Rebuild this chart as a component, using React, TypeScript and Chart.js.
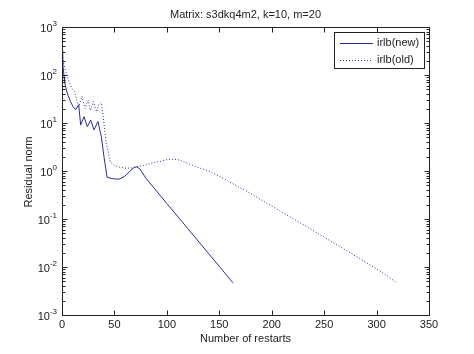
import { useEffect, useRef } from 'react';
import Chart from 'chart.js/auto';

const TITLE = 'Matrix: s3dkq4m2, k=10, m=20';
const X_LABEL = 'Number of restarts';
const Y_LABEL = 'Residual norm';
const SERIES_NAMES = ['irlb(new)', 'irlb(old)'];

const xTicks = [0, 50, 100, 150, 200, 250, 300, 350];
const yTicks = [1e-3, 1e-2, 1e-1, 1, 10, 100, 1000];
const yTickExps = ['-3', '-2', '-1', '0', '1', '2', '3'];

const newX = [0.5, 1, 2, 2.5, 4, 5.7, 8, 10.5, 13, 15.9, 17.8, 21, 24.1, 27.4, 30.5, 34.3, 37.5, 40, 43, 47, 51, 55, 60, 64, 68, 71, 74, 80, 100, 120, 140, 163];
const newY = [360, 150, 90, 72, 50, 38, 28, 22, 19, 24, 9.1, 13.5, 8.4, 11.5, 7.2, 10.7, 5.2, 2.0, 0.74, 0.7, 0.68, 0.68, 0.78, 0.95, 1.15, 1.22, 1.12, 0.71, 0.21, 0.063, 0.0188, 0.0047];

const oldX = [0.5, 1, 3, 6, 9, 12, 14, 16, 19, 22, 25, 27, 30, 33, 35, 37.5, 40, 42, 44, 46, 50, 55, 60, 66, 72, 78, 85, 90, 95, 101, 106, 112, 118, 125, 133, 141, 155, 168, 180, 190, 200, 210, 221, 235, 250, 259, 270, 285, 300, 310, 319];
const oldY = [360, 200, 130, 80, 55, 45, 30, 22, 36, 20, 30, 18, 28, 17, 24, 27, 10, 4, 2.5, 1.55, 1.3, 1.2, 1.15, 1.15, 1.25, 1.3, 1.45, 1.55, 1.6, 1.75, 1.76, 1.7, 1.5, 1.3, 1.12, 0.98, 0.68, 0.47, 0.34, 0.25, 0.186, 0.138, 0.1, 0.066, 0.042, 0.0316, 0.0229, 0.0145, 0.0091, 0.0066, 0.0047];

const LINE_COLOR = '#2a2aa0';
const FONT = '"Liberation Sans", Arial, sans-serif';

const decorPlugin = {
  id: 'matlabDecor',
  afterDraw(chart: any) {
    const { ctx, chartArea } = chart;
    const { left, right, top, bottom } = chartArea;
    const xs = chart.scales.x;
    const ys = chart.scales.y;
    ctx.save();
    ctx.strokeStyle = '#222';
    ctx.lineWidth = 1;
    const L = Math.round(left) + 0.5, R = Math.round(right) + 0.5, T = Math.round(top) + 0.5, B = Math.round(bottom) + 0.5;
    ctx.strokeRect(L, T, R - L, B - T);
    ctx.beginPath();
    xTicks.forEach((v) => {
      const px = Math.round(xs.getPixelForValue(v)) + 0.5;
      ctx.moveTo(px, B); ctx.lineTo(px, B - 5);
      ctx.moveTo(px, T); ctx.lineTo(px, T + 5);
    });
    yTicks.forEach((v) => {
      const py = Math.round(ys.getPixelForValue(v)) + 0.5;
      ctx.moveTo(L, py); ctx.lineTo(L + 5, py);
      ctx.moveTo(R, py); ctx.lineTo(R - 5, py);
    });
    for (let k = -3; k < 3; k++) {
      for (let m = 2; m <= 9; m++) {
        const py = Math.round(ys.getPixelForValue(m * Math.pow(10, k))) + 0.5;
        ctx.moveTo(L, py); ctx.lineTo(L + 3, py);
        ctx.moveTo(R, py); ctx.lineTo(R - 3, py);
      }
    }
    ctx.stroke();

    // y tick labels with superscripts
    ctx.fillStyle = '#222';
    yTicks.forEach((v, i) => {
      const py = ys.getPixelForValue(v);
      ctx.font = `8px ${FONT}`;
      const ew = ctx.measureText(yTickExps[i]).width;
      const xr = left - 5;
      ctx.textAlign = 'left';
      ctx.textBaseline = 'alphabetic';
      ctx.fillText(yTickExps[i], xr - ew, py - 1);
      ctx.font = `11px ${FONT}`;
      ctx.textAlign = 'right';
      ctx.fillText('10', xr - ew, py + 5);
    });

    // title
    ctx.font = `11px ${FONT}`;
    ctx.textAlign = 'center';
    ctx.textBaseline = 'middle';
    ctx.fillText(TITLE, (left + right) / 2, 15);
    // x label
    ctx.fillText(X_LABEL, (left + right) / 2, 339);
    // y label
    ctx.save();
    ctx.translate(29, (top + bottom) / 2 + 1);
    ctx.rotate(-Math.PI / 2);
    ctx.fillText(Y_LABEL, 0, 0);
    ctx.restore();

    // legend
    ctx.fillStyle = '#fff';
    ctx.fillRect(334, 32, 90, 36);
    ctx.strokeStyle = '#222';
    ctx.strokeRect(334.5, 32.5, 90, 36);
    const rows = [43, 60];
    rows.forEach((y, i) => {
      ctx.beginPath();
      ctx.strokeStyle = LINE_COLOR;
      ctx.lineWidth = 1;
      ctx.setLineDash(i === 0 ? [] : [1, 2]);
      ctx.moveTo(340, y + 0.5);
      ctx.lineTo(373, y + 0.5);
      ctx.stroke();
      ctx.setLineDash([]);
      ctx.fillStyle = '#222';
      ctx.textAlign = 'left';
      ctx.textBaseline = 'middle';
      ctx.font = `11px ${FONT}`;
      ctx.fillText(SERIES_NAMES[i], 377, y);
    });
    ctx.restore();
  },
};

export default function App() {
  const ref = useRef<HTMLCanvasElement>(null);
  useEffect(() => {
    if (!ref.current) return;
    const chart = new Chart(ref.current, {
      type: 'line',
      data: {
        datasets: [
          {
            label: SERIES_NAMES[0],
            data: newX.map((x, i) => ({ x, y: newY[i] })),
            borderColor: LINE_COLOR,
            borderWidth: 1,
            pointRadius: 0,
            tension: 0,
          },
          {
            label: SERIES_NAMES[1],
            data: oldX.map((x, i) => ({ x, y: oldY[i] })),
            borderColor: LINE_COLOR,
            borderWidth: 1,
            borderDash: [1, 2],
            pointRadius: 0,
            tension: 0,
          },
        ],
      },
      options: {
        animation: false,
        responsive: true,
        maintainAspectRatio: false,
        layout: { padding: { top: 27, right: 45, left: 0, bottom: 0 } },
        plugins: { legend: { display: false }, title: { display: false }, tooltip: { enabled: false } },
        scales: {
          x: {
            type: 'linear',
            min: 0,
            max: 350,
            grid: { display: false, drawTicks: false },
            border: { display: false },
            afterBuildTicks: (s: any) => { s.ticks = xTicks.map((v) => ({ value: v })); },
            afterFit: (s: any) => { s.height = 39; },
            ticks: { color: '#222', font: { family: FONT, size: 11 }, padding: 3, maxRotation: 0, autoSkip: false },
          },
          y: {
            type: 'logarithmic',
            min: 1e-3,
            max: 1e3,
            grid: { display: false, drawTicks: false },
            border: { display: false },
            afterBuildTicks: (s: any) => { s.ticks = yTicks.map((v) => ({ value: v })); },
            afterFit: (s: any) => { s.width = 62; },
            ticks: { display: false },
          },
        },
      },
      plugins: [decorPlugin],
    });
    return () => chart.destroy();
  }, []);
  return (
    <div style={{ position: 'fixed', left: 0, top: 0, width: 474, height: 354, background: '#fff' }}>
      <canvas ref={ref} />
    </div>
  );
}
